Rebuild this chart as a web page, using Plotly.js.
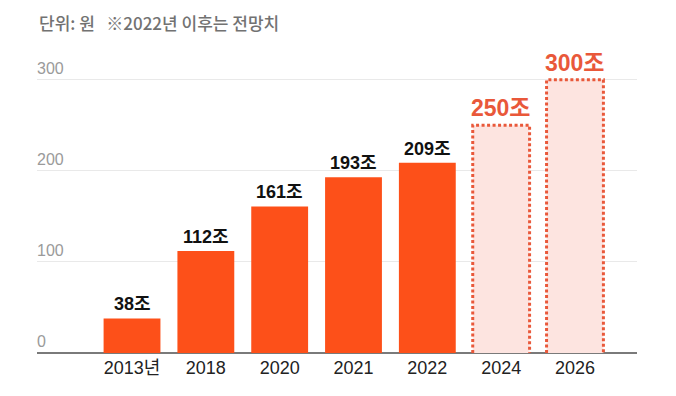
<!DOCTYPE html>
<html><head><meta charset="utf-8">
<script src="https://cdn.plot.ly/plotly-3.0.1.min.js"></script>
<style>html,body{margin:0;padding:0;background:#fff;}#chart{width:676px;height:396px;}</style>
</head><body><div id="chart"></div>
<script>
const categories = ["2013년", "2018", "2020", "2021", "2022", "2024", "2026"];
const values = [38, 112, 161, 193, 209, 250, 300];
const projected = [false, false, false, false, false, true, true];
const valueLabels = values.map(v => v + "조");
const yTicks = [0, 100, 200, 300];

const FONT = "Liberation Sans, Arial, 'Noto Sans CJK KR', sans-serif";
const BAR = "#fd5019";
const PFILL = "#fde4e0";
const PLINE = "#e9583a";
const W = 0.77;
const idx = categories.map((c, i) => i);

const traces = [{
  type: "bar",
  x: idx,
  y: values,
  width: W,
  marker: {color: projected.map(p => p ? PFILL : BAR), line: {width: 0}},
  hoverinfo: "skip",
  showlegend: false
}];
idx.forEach(i => {
  if (!projected[i]) return;
  traces.push({
    type: "scatter", mode: "lines",
    x: [i - W/2, i - W/2, i + W/2, i + W/2],
    y: [0, values[i], values[i], 0],
    line: {color: PLINE, width: 3, dash: "3px,2.5px"},
    hoverinfo: "skip", showlegend: false, cliponaxis: false
  });
});

const annotations = idx.map(i => ({
  x: i, y: values[i], xref: "x", yref: "y",
  text: valueLabels[i], showarrow: false,
  yanchor: "bottom", yshift: 2,
  font: {family: FONT, size: projected[i] ? 23 : 18, color: projected[i] ? PLINE : "#111", weight: "bold"}
}));
yTicks.forEach(t => annotations.push({
  xref: "paper", yref: "y", x: 0, y: t, xanchor: "left", yanchor: "bottom",
  xshift: -2, yshift: 1, text: String(t), showarrow: false,
  font: {family: FONT, size: 16, color: "#9a9a9a"}
}));
annotations.push({
  xref: "paper", yref: "paper", x: 0, y: 1, xanchor: "left", yanchor: "middle",
  yshift: 56, text: "단위: 원   ※2022년 이후는 전망치", showarrow: false,
  font: {family: "'Noto Sans CJK KR', sans-serif", size: 17, color: "#727272", weight: 500}
});

const layout = {
  width: 676, height: 396,
  margin: {l: 37, r: 39, t: 78, b: 43},
  paper_bgcolor: "#fff", plot_bgcolor: "#fff",
  font: {family: FONT},
  xaxis: {
    range: [-1.287, 6.84], tickvals: idx, ticktext: categories,
    showgrid: false, zeroline: false, showline: false, ticks: "",
    tickfont: {family: FONT, size: 18, color: "#222"}, ticklabelstandoff: 2, fixedrange: true
  },
  yaxis: {
    range: [0, 302], tickvals: yTicks, showticklabels: false,
    showgrid: true, gridcolor: "#e9e9e9", gridwidth: 1,
    zeroline: true, zerolinecolor: "#7a7a7a", zerolinewidth: 2.5,
    showline: false, ticks: "", fixedrange: true
  },
  bargap: 0.2,
  annotations: annotations
};
Plotly.newPlot("chart", traces, layout, {displayModeBar: false, staticPlot: true});
</script></body></html>
